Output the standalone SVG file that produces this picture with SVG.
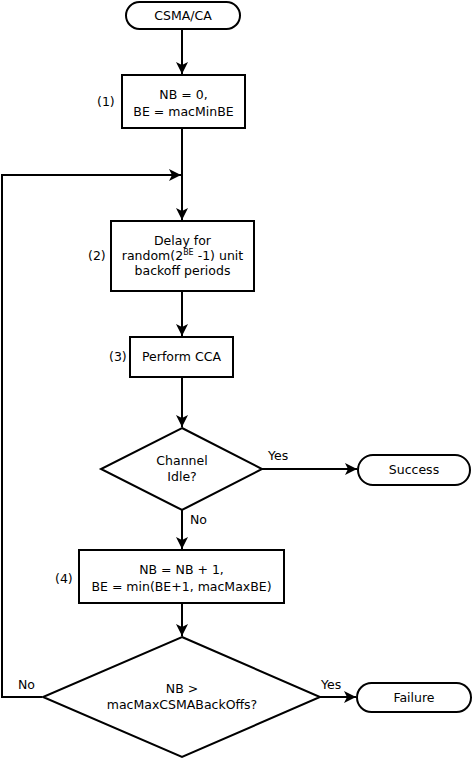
<svg xmlns="http://www.w3.org/2000/svg" width="474" height="760" viewBox="0 0 474 760">
<defs>
<marker id="ah" markerWidth="12" markerHeight="12" viewBox="0 0 12 12" refX="12" refY="6" orient="auto" markerUnits="userSpaceOnUse">
<path d="M0,0 L12,6 L0,12 L3,6 Z" fill="#000"/>
</marker>
</defs>
<style>
.s{fill:#fff;stroke:#000;stroke-width:2}
.c{fill:none;stroke:#000;stroke-width:2}
text{font-family:"DejaVu Sans",sans-serif;font-size:12.5px;fill:#000}
.m{text-anchor:middle}
</style>
<rect width="474" height="760" fill="#fff"/>
<g id="connectors">
<path class="c" d="M182,29 V74" marker-end="url(#ah)"/>
<path class="c" d="M182,128 V220" marker-end="url(#ah)"/>
<path class="c" d="M42,697 H2 V175 H181" marker-end="url(#ah)"/>
<path class="c" d="M182,291 V336" marker-end="url(#ah)"/>
<path class="c" d="M182,377 V427" marker-end="url(#ah)"/>
<path class="c" d="M262,469 H357" marker-end="url(#ah)"/>
<path class="c" d="M182,510 V549" marker-end="url(#ah)"/>
<path class="c" d="M182,603 V636" marker-end="url(#ah)"/>
<path class="c" d="M320,697 H356" marker-end="url(#ah)"/>
<text x="268" y="460">Yes</text>
<text x="190" y="524">No</text>
<text x="18" y="689">No</text>
<text x="321" y="689">Yes</text>
</g>
<g id="start">
<rect class="s" x="126" y="2" width="114" height="27" rx="13.5"/>
<text class="m" x="183" y="20">CSMA/CA</text>
</g>
<g id="step1">
<rect class="s" x="122" y="75" width="123" height="53"/>
<text class="m" x="183.5" y="99">NB = 0,</text>
<text class="m" x="183.5" y="116">BE = macMinBE</text>
<text x="97" y="106">(1)</text>
</g>
<g id="step2">
<rect class="s" x="111" y="221" width="143" height="70"/>
<text class="m" x="182.5" y="245">Delay for</text>
<text class="m" x="182.5" y="260">random(2<tspan font-size="8" dy="-5">BE</tspan><tspan dy="5"> -1) unit</tspan></text>
<text class="m" x="182.5" y="275">backoff periods</text>
<text x="88" y="260">(2)</text>
</g>
<g id="step3">
<rect class="s" x="130" y="337" width="103" height="40"/>
<text class="m" x="181.5" y="361">Perform CCA</text>
<text x="109" y="361">(3)</text>
</g>
<g id="idle">
<polygon class="s" points="182,428 262,469 182,510 101,469"/>
<text class="m" x="182" y="465">Channel</text>
<text class="m" x="182" y="481">Idle?</text>
</g>
<g id="success">
<rect class="s" x="358" y="455" width="112" height="30" rx="15"/>
<text class="m" x="414" y="474">Success</text>
</g>
<g id="step4">
<rect class="s" x="79" y="550" width="205" height="53"/>
<text class="m" x="181.5" y="574">NB = NB + 1,</text>
<text class="m" x="181.5" y="591">BE = min(BE+1, macMaxBE)</text>
<text x="55" y="583">(4)</text>
</g>
<g id="maxbackoff">
<polygon class="s" points="182,637 320,697 182,757 43,697"/>
<text class="m" x="182" y="693">NB &gt;</text>
<text class="m" x="182" y="709">macMaxCSMABackOffs?</text>
</g>
<g id="failure">
<rect class="s" x="357" y="683" width="114" height="29" rx="14.5"/>
<text class="m" x="414" y="702">Failure</text>
</g>
</svg>
